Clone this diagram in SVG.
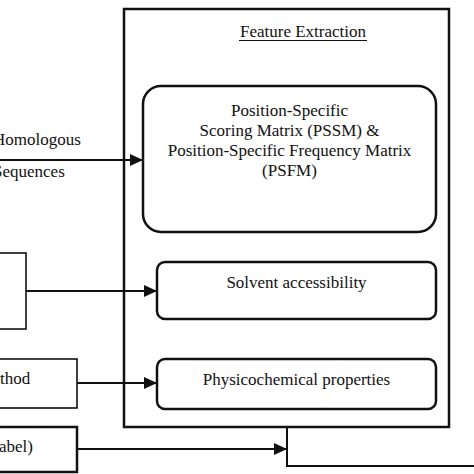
<svg xmlns="http://www.w3.org/2000/svg" width="474" height="474" viewBox="0 0 474 474">
<style>
text{font-family:"Liberation Serif","Times New Roman",serif;font-size:17px;fill:#111}
.c{text-anchor:middle}
.box{fill:#fff;stroke:#111;stroke-width:2.5}
.thin{fill:#fff;stroke:#111;stroke-width:1.6}
.ln{fill:none;stroke:#111;stroke-width:2}
</style>
<defs>
<marker id="ah" markerWidth="13" markerHeight="12" refX="13" refY="6" orient="auto" markerUnits="userSpaceOnUse">
<path d="M0,0 L13,6 L0,12 Z" fill="#111"/>
</marker>
</defs>
<rect width="474" height="474" fill="#fff"/>
<g id="feature-extraction">
<rect class="box" x="124" y="9" width="325" height="418"/>
<text class="c" x="303" y="37">Feature Extraction</text>
<line x1="239" y1="40.5" x2="367" y2="40.5" stroke="#111" stroke-width="1"/>
</g>
<g id="homologous">
<text x="-7" y="145">Homologous</text>
<text x="-7" y="177">Sequences</text>
</g>
<g id="input-box-1">
<rect class="thin" x="-10" y="253" width="36" height="76"/>
</g>
<g id="input-box-2">
<rect class="thin" x="-10" y="359" width="87" height="49"/>
<text x="0" y="384">thod</text>
</g>
<g id="input-box-3">
<rect class="box" x="-10" y="427" width="87" height="45"/>
<text x="-1" y="452">abel)</text>
</g>
<g id="connectors">
<line class="ln" x1="0" y1="160" x2="143" y2="160" marker-end="url(#ah)"/>
<line class="ln" x1="26" y1="291" x2="157" y2="291" marker-end="url(#ah)"/>
<line class="ln" x1="77" y1="383" x2="157" y2="383" marker-end="url(#ah)"/>
<line class="ln" x1="77" y1="449" x2="287" y2="449" marker-end="url(#ah)"/>
<polyline class="ln" points="287,427 287,466 474,466"/>
</g>
<g id="pssm">
<rect class="box" x="143" y="86" width="293" height="146" rx="18" ry="18"/>
<text class="c" x="289.5" y="116">Position-Specific</text>
<text class="c" x="289.5" y="136">Scoring Matrix (PSSM) &amp;</text>
<text class="c" x="289.5" y="156">Position-Specific Frequency Matrix</text>
<text class="c" x="289.5" y="176">(PSFM)</text>
</g>
<g id="solvent">
<rect class="box" x="157" y="262" width="279" height="57" rx="8" ry="8"/>
<text class="c" x="296.5" y="288">Solvent accessibility</text>
</g>
<g id="physicochemical">
<rect class="box" x="157" y="359" width="279" height="50" rx="8" ry="8"/>
<text class="c" x="296.5" y="385">Physicochemical properties</text>
</g>
</svg>
